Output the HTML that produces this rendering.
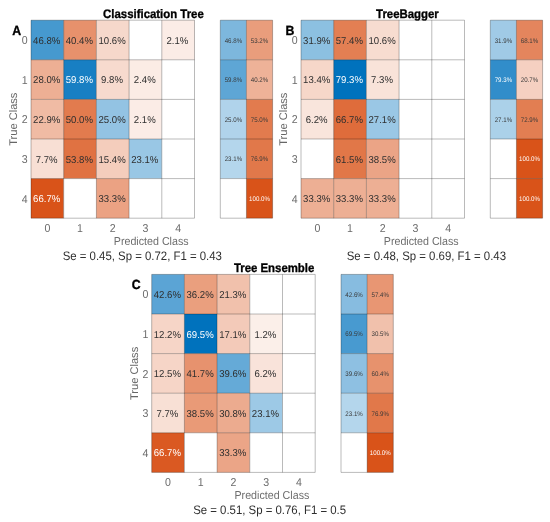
<!DOCTYPE html>
<html><head><meta charset="utf-8"><title>Confusion charts</title>
<style>
html,body{margin:0;padding:0;background:#fff;width:550px;height:522px;overflow:hidden}
svg{display:block;filter:blur(0.35px)}
text{font-family:'Liberation Sans', Arial, Helvetica, sans-serif;text-rendering:geometricPrecision}
</style></head><body>
<svg width="550" height="522" viewBox="0 0 550 522">
<rect x="0" y="0" width="550" height="522" fill="#ffffff"/>
<rect x="31.00" y="20.20" width="32.70" height="39.60" fill="#4699cf"/>
<rect x="63.70" y="20.20" width="32.70" height="39.60" fill="#e7916c"/>
<rect x="96.40" y="20.20" width="32.70" height="39.60" fill="#f6d8cb"/>
<rect x="129.10" y="20.20" width="32.70" height="39.60" fill="#ffffff"/>
<rect x="161.80" y="20.20" width="32.70" height="39.60" fill="#fbece6"/>
<rect x="31.00" y="59.80" width="32.70" height="39.60" fill="#edaf94"/>
<rect x="63.70" y="59.80" width="32.70" height="39.60" fill="#187fc3"/>
<rect x="96.40" y="59.80" width="32.70" height="39.60" fill="#f7dace"/>
<rect x="129.10" y="59.80" width="32.70" height="39.60" fill="#fbece5"/>
<rect x="161.80" y="59.80" width="32.70" height="39.60" fill="#ffffff"/>
<rect x="31.00" y="99.40" width="32.70" height="39.60" fill="#f0bba4"/>
<rect x="63.70" y="99.40" width="32.70" height="39.60" fill="#e27b4e"/>
<rect x="96.40" y="99.40" width="32.70" height="39.60" fill="#93c3e3"/>
<rect x="129.10" y="99.40" width="32.70" height="39.60" fill="#fbece6"/>
<rect x="161.80" y="99.40" width="32.70" height="39.60" fill="#ffffff"/>
<rect x="31.00" y="139.00" width="32.70" height="39.60" fill="#f8dfd4"/>
<rect x="63.70" y="139.00" width="32.70" height="39.60" fill="#e07242"/>
<rect x="96.40" y="139.00" width="32.70" height="39.60" fill="#f4cdbc"/>
<rect x="129.10" y="139.00" width="32.70" height="39.60" fill="#99c7e5"/>
<rect x="161.80" y="139.00" width="32.70" height="39.60" fill="#ffffff"/>
<rect x="31.00" y="178.60" width="32.70" height="39.60" fill="#d95319"/>
<rect x="63.70" y="178.60" width="32.70" height="39.60" fill="#ffffff"/>
<rect x="96.40" y="178.60" width="32.70" height="39.60" fill="#eba283"/>
<rect x="129.10" y="178.60" width="32.70" height="39.60" fill="#ffffff"/>
<rect x="161.80" y="178.60" width="32.70" height="39.60" fill="#ffffff"/>
<line x1="31.00" y1="20.20" x2="31.00" y2="218.20" stroke="#000" stroke-opacity="0.27" stroke-width="1"/>
<line x1="31.00" y1="20.20" x2="194.50" y2="20.20" stroke="#000" stroke-opacity="0.27" stroke-width="1"/>
<line x1="63.70" y1="20.20" x2="63.70" y2="218.20" stroke="#000" stroke-opacity="0.27" stroke-width="1"/>
<line x1="31.00" y1="59.80" x2="194.50" y2="59.80" stroke="#000" stroke-opacity="0.27" stroke-width="1"/>
<line x1="96.40" y1="20.20" x2="96.40" y2="218.20" stroke="#000" stroke-opacity="0.27" stroke-width="1"/>
<line x1="31.00" y1="99.40" x2="194.50" y2="99.40" stroke="#000" stroke-opacity="0.27" stroke-width="1"/>
<line x1="129.10" y1="20.20" x2="129.10" y2="218.20" stroke="#000" stroke-opacity="0.27" stroke-width="1"/>
<line x1="31.00" y1="139.00" x2="194.50" y2="139.00" stroke="#000" stroke-opacity="0.27" stroke-width="1"/>
<line x1="161.80" y1="20.20" x2="161.80" y2="218.20" stroke="#000" stroke-opacity="0.27" stroke-width="1"/>
<line x1="31.00" y1="178.60" x2="194.50" y2="178.60" stroke="#000" stroke-opacity="0.27" stroke-width="1"/>
<line x1="194.50" y1="20.20" x2="194.50" y2="218.20" stroke="#000" stroke-opacity="0.27" stroke-width="1"/>
<line x1="31.00" y1="218.20" x2="194.50" y2="218.20" stroke="#000" stroke-opacity="0.27" stroke-width="1"/>
<text transform="translate(46.65,43.75) scale(1,1.04)" font-size="9.6" fill="#2e2e2e" font-weight="normal" text-anchor="middle" >46.8%</text>
<text transform="translate(79.35,43.75) scale(1,1.04)" font-size="9.6" fill="#2e2e2e" font-weight="normal" text-anchor="middle" >40.4%</text>
<text transform="translate(112.05,43.75) scale(1,1.04)" font-size="9.6" fill="#2e2e2e" font-weight="normal" text-anchor="middle" >10.6%</text>
<text transform="translate(177.45,43.75) scale(1,1.04)" font-size="9.6" fill="#2e2e2e" font-weight="normal" text-anchor="middle" >2.1%</text>
<text transform="translate(46.65,83.35) scale(1,1.04)" font-size="9.6" fill="#2e2e2e" font-weight="normal" text-anchor="middle" >28.0%</text>
<text transform="translate(79.35,83.35) scale(1,1.04)" font-size="9.6" fill="#ffffff" font-weight="normal" text-anchor="middle" >59.8%</text>
<text transform="translate(112.05,83.35) scale(1,1.04)" font-size="9.6" fill="#2e2e2e" font-weight="normal" text-anchor="middle" >9.8%</text>
<text transform="translate(144.75,83.35) scale(1,1.04)" font-size="9.6" fill="#2e2e2e" font-weight="normal" text-anchor="middle" >2.4%</text>
<text transform="translate(46.65,122.95) scale(1,1.04)" font-size="9.6" fill="#2e2e2e" font-weight="normal" text-anchor="middle" >22.9%</text>
<text transform="translate(79.35,122.95) scale(1,1.04)" font-size="9.6" fill="#2e2e2e" font-weight="normal" text-anchor="middle" >50.0%</text>
<text transform="translate(112.05,122.95) scale(1,1.04)" font-size="9.6" fill="#2e2e2e" font-weight="normal" text-anchor="middle" >25.0%</text>
<text transform="translate(144.75,122.95) scale(1,1.04)" font-size="9.6" fill="#2e2e2e" font-weight="normal" text-anchor="middle" >2.1%</text>
<text transform="translate(46.65,162.55) scale(1,1.04)" font-size="9.6" fill="#2e2e2e" font-weight="normal" text-anchor="middle" >7.7%</text>
<text transform="translate(79.35,162.55) scale(1,1.04)" font-size="9.6" fill="#2e2e2e" font-weight="normal" text-anchor="middle" >53.8%</text>
<text transform="translate(112.05,162.55) scale(1,1.04)" font-size="9.6" fill="#2e2e2e" font-weight="normal" text-anchor="middle" >15.4%</text>
<text transform="translate(144.75,162.55) scale(1,1.04)" font-size="9.6" fill="#2e2e2e" font-weight="normal" text-anchor="middle" >23.1%</text>
<text transform="translate(46.65,202.15) scale(1,1.04)" font-size="9.6" fill="#ffffff" font-weight="normal" text-anchor="middle" >66.7%</text>
<text transform="translate(112.05,202.15) scale(1,1.04)" font-size="9.6" fill="#2e2e2e" font-weight="normal" text-anchor="middle" >33.3%</text>
<rect x="220.30" y="20.20" width="26.15" height="39.60" fill="#7db7dd"/>
<rect x="246.45" y="20.20" width="26.15" height="39.60" fill="#e99d7c"/>
<rect x="220.30" y="59.80" width="26.15" height="39.60" fill="#5ea6d5"/>
<rect x="246.45" y="59.80" width="26.15" height="39.60" fill="#eeb298"/>
<rect x="220.30" y="99.40" width="26.15" height="39.60" fill="#b0d3eb"/>
<rect x="246.45" y="99.40" width="26.15" height="39.60" fill="#e27b4e"/>
<rect x="220.30" y="139.00" width="26.15" height="39.60" fill="#b4d6ec"/>
<rect x="246.45" y="139.00" width="26.15" height="39.60" fill="#e1784a"/>
<rect x="220.30" y="178.60" width="26.15" height="39.60" fill="#ffffff"/>
<rect x="246.45" y="178.60" width="26.15" height="39.60" fill="#d95319"/>
<line x1="220.30" y1="20.20" x2="220.30" y2="218.20" stroke="#000" stroke-opacity="0.27" stroke-width="1"/>
<line x1="246.45" y1="20.20" x2="246.45" y2="218.20" stroke="#000" stroke-opacity="0.27" stroke-width="1"/>
<line x1="272.60" y1="20.20" x2="272.60" y2="218.20" stroke="#000" stroke-opacity="0.27" stroke-width="1"/>
<line x1="220.30" y1="20.20" x2="272.60" y2="20.20" stroke="#000" stroke-opacity="0.27" stroke-width="1"/>
<line x1="220.30" y1="59.80" x2="272.60" y2="59.80" stroke="#000" stroke-opacity="0.27" stroke-width="1"/>
<line x1="220.30" y1="99.40" x2="272.60" y2="99.40" stroke="#000" stroke-opacity="0.27" stroke-width="1"/>
<line x1="220.30" y1="139.00" x2="272.60" y2="139.00" stroke="#000" stroke-opacity="0.27" stroke-width="1"/>
<line x1="220.30" y1="178.60" x2="272.60" y2="178.60" stroke="#000" stroke-opacity="0.27" stroke-width="1"/>
<line x1="220.30" y1="218.20" x2="272.60" y2="218.20" stroke="#000" stroke-opacity="0.27" stroke-width="1"/>
<text transform="translate(233.38,42.55) scale(1,1.08)" font-size="6.15" fill="#383838" font-weight="normal" text-anchor="middle" >46.8%</text>
<text transform="translate(259.52,42.55) scale(1,1.08)" font-size="6.15" fill="#383838" font-weight="normal" text-anchor="middle" >53.2%</text>
<text transform="translate(233.38,82.15) scale(1,1.08)" font-size="6.15" fill="#383838" font-weight="normal" text-anchor="middle" >59.8%</text>
<text transform="translate(259.52,82.15) scale(1,1.08)" font-size="6.15" fill="#383838" font-weight="normal" text-anchor="middle" >40.2%</text>
<text transform="translate(233.38,121.75) scale(1,1.08)" font-size="6.15" fill="#383838" font-weight="normal" text-anchor="middle" >25.0%</text>
<text transform="translate(259.52,121.75) scale(1,1.08)" font-size="6.15" fill="#383838" font-weight="normal" text-anchor="middle" >75.0%</text>
<text transform="translate(233.38,161.35) scale(1,1.08)" font-size="6.15" fill="#383838" font-weight="normal" text-anchor="middle" >23.1%</text>
<text transform="translate(259.52,161.35) scale(1,1.08)" font-size="6.15" fill="#383838" font-weight="normal" text-anchor="middle" >76.9%</text>
<text transform="translate(259.52,200.95) scale(1,1.08)" font-size="6.15" fill="#ffffff" font-weight="normal" text-anchor="middle" >100.0%</text>
<text transform="translate(24.70,44.20) scale(1,1.08)" font-size="10.6" fill="#6a6a6a" font-weight="normal" text-anchor="middle" >0</text>
<text transform="translate(47.35,231.80) scale(1,1.08)" font-size="10.6" fill="#6a6a6a" font-weight="normal" text-anchor="middle" >0</text>
<text transform="translate(24.70,83.80) scale(1,1.08)" font-size="10.6" fill="#6a6a6a" font-weight="normal" text-anchor="middle" >1</text>
<text transform="translate(80.05,231.80) scale(1,1.08)" font-size="10.6" fill="#6a6a6a" font-weight="normal" text-anchor="middle" >1</text>
<text transform="translate(24.70,123.40) scale(1,1.08)" font-size="10.6" fill="#6a6a6a" font-weight="normal" text-anchor="middle" >2</text>
<text transform="translate(112.75,231.80) scale(1,1.08)" font-size="10.6" fill="#6a6a6a" font-weight="normal" text-anchor="middle" >2</text>
<text transform="translate(24.70,163.00) scale(1,1.08)" font-size="10.6" fill="#6a6a6a" font-weight="normal" text-anchor="middle" >3</text>
<text transform="translate(145.45,231.80) scale(1,1.08)" font-size="10.6" fill="#6a6a6a" font-weight="normal" text-anchor="middle" >3</text>
<text transform="translate(24.70,202.60) scale(1,1.08)" font-size="10.6" fill="#6a6a6a" font-weight="normal" text-anchor="middle" >4</text>
<text transform="translate(178.15,231.80) scale(1,1.08)" font-size="10.6" fill="#6a6a6a" font-weight="normal" text-anchor="middle" >4</text>
<text x="0" y="0" font-size="11.1" fill="#666666" text-anchor="middle" transform="translate(17.40,119.20) rotate(-90)">True Class</text>
<text transform="translate(151.20,244.90) scale(1,1.08)" font-size="10.7" fill="#6e6e6e" font-weight="normal" text-anchor="middle" >Predicted Class</text>
<text transform="translate(142.30,259.80) scale(1,1.08)" font-size="11.4" fill="#2e2e2e" font-weight="normal" text-anchor="middle" >Se = 0.45, Sp = 0.72, F1 = 0.43</text>
<text transform="translate(153.45,17.60) scale(1,1.08)" font-size="11.4" fill="#000000" font-weight="bold" text-anchor="middle" stroke="#000" stroke-width="0.3">Classification Tree</text>
<text transform="translate(12.20,34.80) scale(1,1.08)" font-size="12.3" fill="#000000" font-weight="bold" text-anchor="start" stroke="#000" stroke-width="0.3">A</text>
<rect x="301.00" y="20.20" width="32.70" height="39.60" fill="#8cc0e1"/>
<rect x="333.70" y="20.20" width="32.70" height="39.60" fill="#e37f53"/>
<rect x="366.40" y="20.20" width="32.70" height="39.60" fill="#f7dcd0"/>
<rect x="399.10" y="20.20" width="32.70" height="39.60" fill="#ffffff"/>
<rect x="431.80" y="20.20" width="32.70" height="39.60" fill="#ffffff"/>
<rect x="301.00" y="59.80" width="32.70" height="39.60" fill="#f6d7c9"/>
<rect x="333.70" y="59.80" width="32.70" height="39.60" fill="#0072bd"/>
<rect x="366.40" y="59.80" width="32.70" height="39.60" fill="#f9e3d9"/>
<rect x="399.10" y="59.80" width="32.70" height="39.60" fill="#ffffff"/>
<rect x="431.80" y="59.80" width="32.70" height="39.60" fill="#ffffff"/>
<rect x="301.00" y="99.40" width="32.70" height="39.60" fill="#f9e5dc"/>
<rect x="333.70" y="99.40" width="32.70" height="39.60" fill="#df6c3b"/>
<rect x="366.40" y="99.40" width="32.70" height="39.60" fill="#9ac7e5"/>
<rect x="399.10" y="99.40" width="32.70" height="39.60" fill="#ffffff"/>
<rect x="431.80" y="99.40" width="32.70" height="39.60" fill="#ffffff"/>
<rect x="301.00" y="139.00" width="32.70" height="39.60" fill="#ffffff"/>
<rect x="333.70" y="139.00" width="32.70" height="39.60" fill="#e17748"/>
<rect x="366.40" y="139.00" width="32.70" height="39.60" fill="#eba486"/>
<rect x="399.10" y="139.00" width="32.70" height="39.60" fill="#ffffff"/>
<rect x="431.80" y="139.00" width="32.70" height="39.60" fill="#ffffff"/>
<rect x="301.00" y="178.60" width="32.70" height="39.60" fill="#edaf94"/>
<rect x="333.70" y="178.60" width="32.70" height="39.60" fill="#edaf94"/>
<rect x="366.40" y="178.60" width="32.70" height="39.60" fill="#edaf94"/>
<rect x="399.10" y="178.60" width="32.70" height="39.60" fill="#ffffff"/>
<rect x="431.80" y="178.60" width="32.70" height="39.60" fill="#ffffff"/>
<line x1="301.00" y1="20.20" x2="301.00" y2="218.20" stroke="#000" stroke-opacity="0.27" stroke-width="1"/>
<line x1="301.00" y1="20.20" x2="464.50" y2="20.20" stroke="#000" stroke-opacity="0.27" stroke-width="1"/>
<line x1="333.70" y1="20.20" x2="333.70" y2="218.20" stroke="#000" stroke-opacity="0.27" stroke-width="1"/>
<line x1="301.00" y1="59.80" x2="464.50" y2="59.80" stroke="#000" stroke-opacity="0.27" stroke-width="1"/>
<line x1="366.40" y1="20.20" x2="366.40" y2="218.20" stroke="#000" stroke-opacity="0.27" stroke-width="1"/>
<line x1="301.00" y1="99.40" x2="464.50" y2="99.40" stroke="#000" stroke-opacity="0.27" stroke-width="1"/>
<line x1="399.10" y1="20.20" x2="399.10" y2="218.20" stroke="#000" stroke-opacity="0.27" stroke-width="1"/>
<line x1="301.00" y1="139.00" x2="464.50" y2="139.00" stroke="#000" stroke-opacity="0.27" stroke-width="1"/>
<line x1="431.80" y1="20.20" x2="431.80" y2="218.20" stroke="#000" stroke-opacity="0.27" stroke-width="1"/>
<line x1="301.00" y1="178.60" x2="464.50" y2="178.60" stroke="#000" stroke-opacity="0.27" stroke-width="1"/>
<line x1="464.50" y1="20.20" x2="464.50" y2="218.20" stroke="#000" stroke-opacity="0.27" stroke-width="1"/>
<line x1="301.00" y1="218.20" x2="464.50" y2="218.20" stroke="#000" stroke-opacity="0.27" stroke-width="1"/>
<text transform="translate(316.65,43.75) scale(1,1.04)" font-size="9.6" fill="#2e2e2e" font-weight="normal" text-anchor="middle" >31.9%</text>
<text transform="translate(349.35,43.75) scale(1,1.04)" font-size="9.6" fill="#2e2e2e" font-weight="normal" text-anchor="middle" >57.4%</text>
<text transform="translate(382.05,43.75) scale(1,1.04)" font-size="9.6" fill="#2e2e2e" font-weight="normal" text-anchor="middle" >10.6%</text>
<text transform="translate(316.65,83.35) scale(1,1.04)" font-size="9.6" fill="#2e2e2e" font-weight="normal" text-anchor="middle" >13.4%</text>
<text transform="translate(349.35,83.35) scale(1,1.04)" font-size="9.6" fill="#ffffff" font-weight="normal" text-anchor="middle" >79.3%</text>
<text transform="translate(382.05,83.35) scale(1,1.04)" font-size="9.6" fill="#2e2e2e" font-weight="normal" text-anchor="middle" >7.3%</text>
<text transform="translate(316.65,122.95) scale(1,1.04)" font-size="9.6" fill="#2e2e2e" font-weight="normal" text-anchor="middle" >6.2%</text>
<text transform="translate(349.35,122.95) scale(1,1.04)" font-size="9.6" fill="#2e2e2e" font-weight="normal" text-anchor="middle" >66.7%</text>
<text transform="translate(382.05,122.95) scale(1,1.04)" font-size="9.6" fill="#2e2e2e" font-weight="normal" text-anchor="middle" >27.1%</text>
<text transform="translate(349.35,162.55) scale(1,1.04)" font-size="9.6" fill="#2e2e2e" font-weight="normal" text-anchor="middle" >61.5%</text>
<text transform="translate(382.05,162.55) scale(1,1.04)" font-size="9.6" fill="#2e2e2e" font-weight="normal" text-anchor="middle" >38.5%</text>
<text transform="translate(316.65,202.15) scale(1,1.04)" font-size="9.6" fill="#2e2e2e" font-weight="normal" text-anchor="middle" >33.3%</text>
<text transform="translate(349.35,202.15) scale(1,1.04)" font-size="9.6" fill="#2e2e2e" font-weight="normal" text-anchor="middle" >33.3%</text>
<text transform="translate(382.05,202.15) scale(1,1.04)" font-size="9.6" fill="#2e2e2e" font-weight="normal" text-anchor="middle" >33.3%</text>
<rect x="490.30" y="20.20" width="26.15" height="39.60" fill="#a0cae6"/>
<rect x="516.45" y="20.20" width="26.15" height="39.60" fill="#e4855d"/>
<rect x="490.30" y="59.80" width="26.15" height="39.60" fill="#318dca"/>
<rect x="516.45" y="59.80" width="26.15" height="39.60" fill="#f5d0c1"/>
<rect x="490.30" y="99.40" width="26.15" height="39.60" fill="#abd1e9"/>
<rect x="516.45" y="99.40" width="26.15" height="39.60" fill="#e27e52"/>
<rect x="490.30" y="139.00" width="26.15" height="39.60" fill="#ffffff"/>
<rect x="516.45" y="139.00" width="26.15" height="39.60" fill="#d95319"/>
<rect x="490.30" y="178.60" width="26.15" height="39.60" fill="#ffffff"/>
<rect x="516.45" y="178.60" width="26.15" height="39.60" fill="#d95319"/>
<line x1="490.30" y1="20.20" x2="490.30" y2="218.20" stroke="#000" stroke-opacity="0.27" stroke-width="1"/>
<line x1="516.45" y1="20.20" x2="516.45" y2="218.20" stroke="#000" stroke-opacity="0.27" stroke-width="1"/>
<line x1="542.60" y1="20.20" x2="542.60" y2="218.20" stroke="#000" stroke-opacity="0.27" stroke-width="1"/>
<line x1="490.30" y1="20.20" x2="542.60" y2="20.20" stroke="#000" stroke-opacity="0.27" stroke-width="1"/>
<line x1="490.30" y1="59.80" x2="542.60" y2="59.80" stroke="#000" stroke-opacity="0.27" stroke-width="1"/>
<line x1="490.30" y1="99.40" x2="542.60" y2="99.40" stroke="#000" stroke-opacity="0.27" stroke-width="1"/>
<line x1="490.30" y1="139.00" x2="542.60" y2="139.00" stroke="#000" stroke-opacity="0.27" stroke-width="1"/>
<line x1="490.30" y1="178.60" x2="542.60" y2="178.60" stroke="#000" stroke-opacity="0.27" stroke-width="1"/>
<line x1="490.30" y1="218.20" x2="542.60" y2="218.20" stroke="#000" stroke-opacity="0.27" stroke-width="1"/>
<text transform="translate(503.38,42.55) scale(1,1.08)" font-size="6.15" fill="#383838" font-weight="normal" text-anchor="middle" >31.9%</text>
<text transform="translate(529.52,42.55) scale(1,1.08)" font-size="6.15" fill="#383838" font-weight="normal" text-anchor="middle" >68.1%</text>
<text transform="translate(503.38,82.15) scale(1,1.08)" font-size="6.15" fill="#ffffff" font-weight="normal" text-anchor="middle" >79.3%</text>
<text transform="translate(529.52,82.15) scale(1,1.08)" font-size="6.15" fill="#383838" font-weight="normal" text-anchor="middle" >20.7%</text>
<text transform="translate(503.38,121.75) scale(1,1.08)" font-size="6.15" fill="#383838" font-weight="normal" text-anchor="middle" >27.1%</text>
<text transform="translate(529.52,121.75) scale(1,1.08)" font-size="6.15" fill="#383838" font-weight="normal" text-anchor="middle" >72.9%</text>
<text transform="translate(529.52,161.35) scale(1,1.08)" font-size="6.15" fill="#ffffff" font-weight="normal" text-anchor="middle" >100.0%</text>
<text transform="translate(529.52,200.95) scale(1,1.08)" font-size="6.15" fill="#ffffff" font-weight="normal" text-anchor="middle" >100.0%</text>
<text transform="translate(294.70,44.20) scale(1,1.08)" font-size="10.6" fill="#6a6a6a" font-weight="normal" text-anchor="middle" >0</text>
<text transform="translate(317.35,231.80) scale(1,1.08)" font-size="10.6" fill="#6a6a6a" font-weight="normal" text-anchor="middle" >0</text>
<text transform="translate(294.70,83.80) scale(1,1.08)" font-size="10.6" fill="#6a6a6a" font-weight="normal" text-anchor="middle" >1</text>
<text transform="translate(350.05,231.80) scale(1,1.08)" font-size="10.6" fill="#6a6a6a" font-weight="normal" text-anchor="middle" >1</text>
<text transform="translate(294.70,123.40) scale(1,1.08)" font-size="10.6" fill="#6a6a6a" font-weight="normal" text-anchor="middle" >2</text>
<text transform="translate(382.75,231.80) scale(1,1.08)" font-size="10.6" fill="#6a6a6a" font-weight="normal" text-anchor="middle" >2</text>
<text transform="translate(294.70,163.00) scale(1,1.08)" font-size="10.6" fill="#6a6a6a" font-weight="normal" text-anchor="middle" >3</text>
<text transform="translate(415.45,231.80) scale(1,1.08)" font-size="10.6" fill="#6a6a6a" font-weight="normal" text-anchor="middle" >3</text>
<text transform="translate(294.70,202.60) scale(1,1.08)" font-size="10.6" fill="#6a6a6a" font-weight="normal" text-anchor="middle" >4</text>
<text transform="translate(448.15,231.80) scale(1,1.08)" font-size="10.6" fill="#6a6a6a" font-weight="normal" text-anchor="middle" >4</text>
<text x="0" y="0" font-size="11.1" fill="#666666" text-anchor="middle" transform="translate(287.40,119.20) rotate(-90)">True Class</text>
<text transform="translate(421.20,244.90) scale(1,1.08)" font-size="10.7" fill="#6e6e6e" font-weight="normal" text-anchor="middle" >Predicted Class</text>
<text transform="translate(426.40,259.80) scale(1,1.08)" font-size="11.4" fill="#2e2e2e" font-weight="normal" text-anchor="middle" >Se = 0.48, Sp = 0.69, F1 = 0.43</text>
<text transform="translate(407.45,17.60) scale(1,1.08)" font-size="11.4" fill="#000000" font-weight="bold" text-anchor="middle" stroke="#000" stroke-width="0.3">TreeBagger</text>
<text transform="translate(285.50,34.80) scale(1,1.08)" font-size="12.3" fill="#000000" font-weight="bold" text-anchor="start" stroke="#000" stroke-width="0.3">B</text>
<rect x="151.70" y="274.40" width="32.70" height="39.60" fill="#5ba4d5"/>
<rect x="184.40" y="274.40" width="32.70" height="39.60" fill="#ea9f7e"/>
<rect x="217.10" y="274.40" width="32.70" height="39.60" fill="#f1c1ac"/>
<rect x="249.80" y="274.40" width="32.70" height="39.60" fill="#ffffff"/>
<rect x="282.50" y="274.40" width="32.70" height="39.60" fill="#ffffff"/>
<rect x="151.70" y="314.00" width="32.70" height="39.60" fill="#f6d5c7"/>
<rect x="184.40" y="314.00" width="32.70" height="39.60" fill="#0072bd"/>
<rect x="217.10" y="314.00" width="32.70" height="39.60" fill="#f3cab9"/>
<rect x="249.80" y="314.00" width="32.70" height="39.60" fill="#fbefe9"/>
<rect x="282.50" y="314.00" width="32.70" height="39.60" fill="#ffffff"/>
<rect x="151.70" y="353.60" width="32.70" height="39.60" fill="#f6d5c7"/>
<rect x="184.40" y="353.60" width="32.70" height="39.60" fill="#e7926e"/>
<rect x="217.10" y="353.60" width="32.70" height="39.60" fill="#65aad7"/>
<rect x="249.80" y="353.60" width="32.70" height="39.60" fill="#f9e3da"/>
<rect x="282.50" y="353.60" width="32.70" height="39.60" fill="#ffffff"/>
<rect x="151.70" y="393.20" width="32.70" height="39.60" fill="#f8e0d5"/>
<rect x="184.40" y="393.20" width="32.70" height="39.60" fill="#e99a77"/>
<rect x="217.10" y="393.20" width="32.70" height="39.60" fill="#ecab8f"/>
<rect x="249.80" y="393.20" width="32.70" height="39.60" fill="#9dc9e6"/>
<rect x="282.50" y="393.20" width="32.70" height="39.60" fill="#ffffff"/>
<rect x="151.70" y="432.80" width="32.70" height="39.60" fill="#da5922"/>
<rect x="184.40" y="432.80" width="32.70" height="39.60" fill="#ffffff"/>
<rect x="217.10" y="432.80" width="32.70" height="39.60" fill="#eba587"/>
<rect x="249.80" y="432.80" width="32.70" height="39.60" fill="#ffffff"/>
<rect x="282.50" y="432.80" width="32.70" height="39.60" fill="#ffffff"/>
<line x1="151.70" y1="274.40" x2="151.70" y2="472.40" stroke="#000" stroke-opacity="0.27" stroke-width="1"/>
<line x1="151.70" y1="274.40" x2="315.20" y2="274.40" stroke="#000" stroke-opacity="0.27" stroke-width="1"/>
<line x1="184.40" y1="274.40" x2="184.40" y2="472.40" stroke="#000" stroke-opacity="0.27" stroke-width="1"/>
<line x1="151.70" y1="314.00" x2="315.20" y2="314.00" stroke="#000" stroke-opacity="0.27" stroke-width="1"/>
<line x1="217.10" y1="274.40" x2="217.10" y2="472.40" stroke="#000" stroke-opacity="0.27" stroke-width="1"/>
<line x1="151.70" y1="353.60" x2="315.20" y2="353.60" stroke="#000" stroke-opacity="0.27" stroke-width="1"/>
<line x1="249.80" y1="274.40" x2="249.80" y2="472.40" stroke="#000" stroke-opacity="0.27" stroke-width="1"/>
<line x1="151.70" y1="393.20" x2="315.20" y2="393.20" stroke="#000" stroke-opacity="0.27" stroke-width="1"/>
<line x1="282.50" y1="274.40" x2="282.50" y2="472.40" stroke="#000" stroke-opacity="0.27" stroke-width="1"/>
<line x1="151.70" y1="432.80" x2="315.20" y2="432.80" stroke="#000" stroke-opacity="0.27" stroke-width="1"/>
<line x1="315.20" y1="274.40" x2="315.20" y2="472.40" stroke="#000" stroke-opacity="0.27" stroke-width="1"/>
<line x1="151.70" y1="472.40" x2="315.20" y2="472.40" stroke="#000" stroke-opacity="0.27" stroke-width="1"/>
<text transform="translate(167.35,297.95) scale(1,1.04)" font-size="9.6" fill="#2e2e2e" font-weight="normal" text-anchor="middle" >42.6%</text>
<text transform="translate(200.05,297.95) scale(1,1.04)" font-size="9.6" fill="#2e2e2e" font-weight="normal" text-anchor="middle" >36.2%</text>
<text transform="translate(232.75,297.95) scale(1,1.04)" font-size="9.6" fill="#2e2e2e" font-weight="normal" text-anchor="middle" >21.3%</text>
<text transform="translate(167.35,337.55) scale(1,1.04)" font-size="9.6" fill="#2e2e2e" font-weight="normal" text-anchor="middle" >12.2%</text>
<text transform="translate(200.05,337.55) scale(1,1.04)" font-size="9.6" fill="#ffffff" font-weight="normal" text-anchor="middle" >69.5%</text>
<text transform="translate(232.75,337.55) scale(1,1.04)" font-size="9.6" fill="#2e2e2e" font-weight="normal" text-anchor="middle" >17.1%</text>
<text transform="translate(265.45,337.55) scale(1,1.04)" font-size="9.6" fill="#2e2e2e" font-weight="normal" text-anchor="middle" >1.2%</text>
<text transform="translate(167.35,377.15) scale(1,1.04)" font-size="9.6" fill="#2e2e2e" font-weight="normal" text-anchor="middle" >12.5%</text>
<text transform="translate(200.05,377.15) scale(1,1.04)" font-size="9.6" fill="#2e2e2e" font-weight="normal" text-anchor="middle" >41.7%</text>
<text transform="translate(232.75,377.15) scale(1,1.04)" font-size="9.6" fill="#2e2e2e" font-weight="normal" text-anchor="middle" >39.6%</text>
<text transform="translate(265.45,377.15) scale(1,1.04)" font-size="9.6" fill="#2e2e2e" font-weight="normal" text-anchor="middle" >6.2%</text>
<text transform="translate(167.35,416.75) scale(1,1.04)" font-size="9.6" fill="#2e2e2e" font-weight="normal" text-anchor="middle" >7.7%</text>
<text transform="translate(200.05,416.75) scale(1,1.04)" font-size="9.6" fill="#2e2e2e" font-weight="normal" text-anchor="middle" >38.5%</text>
<text transform="translate(232.75,416.75) scale(1,1.04)" font-size="9.6" fill="#2e2e2e" font-weight="normal" text-anchor="middle" >30.8%</text>
<text transform="translate(265.45,416.75) scale(1,1.04)" font-size="9.6" fill="#2e2e2e" font-weight="normal" text-anchor="middle" >23.1%</text>
<text transform="translate(167.35,456.35) scale(1,1.04)" font-size="9.6" fill="#ffffff" font-weight="normal" text-anchor="middle" >66.7%</text>
<text transform="translate(232.75,456.35) scale(1,1.04)" font-size="9.6" fill="#2e2e2e" font-weight="normal" text-anchor="middle" >33.3%</text>
<rect x="341.00" y="274.40" width="26.15" height="39.60" fill="#87bce0"/>
<rect x="367.15" y="274.40" width="26.15" height="39.60" fill="#e89673"/>
<rect x="341.00" y="314.00" width="26.15" height="39.60" fill="#489ad0"/>
<rect x="367.15" y="314.00" width="26.15" height="39.60" fill="#f1c1ac"/>
<rect x="341.00" y="353.60" width="26.15" height="39.60" fill="#8ec0e2"/>
<rect x="367.15" y="353.60" width="26.15" height="39.60" fill="#e7926d"/>
<rect x="341.00" y="393.20" width="26.15" height="39.60" fill="#b4d6ec"/>
<rect x="367.15" y="393.20" width="26.15" height="39.60" fill="#e1784a"/>
<rect x="341.00" y="432.80" width="26.15" height="39.60" fill="#ffffff"/>
<rect x="367.15" y="432.80" width="26.15" height="39.60" fill="#d95319"/>
<line x1="341.00" y1="274.40" x2="341.00" y2="472.40" stroke="#000" stroke-opacity="0.27" stroke-width="1"/>
<line x1="367.15" y1="274.40" x2="367.15" y2="472.40" stroke="#000" stroke-opacity="0.27" stroke-width="1"/>
<line x1="393.30" y1="274.40" x2="393.30" y2="472.40" stroke="#000" stroke-opacity="0.27" stroke-width="1"/>
<line x1="341.00" y1="274.40" x2="393.30" y2="274.40" stroke="#000" stroke-opacity="0.27" stroke-width="1"/>
<line x1="341.00" y1="314.00" x2="393.30" y2="314.00" stroke="#000" stroke-opacity="0.27" stroke-width="1"/>
<line x1="341.00" y1="353.60" x2="393.30" y2="353.60" stroke="#000" stroke-opacity="0.27" stroke-width="1"/>
<line x1="341.00" y1="393.20" x2="393.30" y2="393.20" stroke="#000" stroke-opacity="0.27" stroke-width="1"/>
<line x1="341.00" y1="432.80" x2="393.30" y2="432.80" stroke="#000" stroke-opacity="0.27" stroke-width="1"/>
<line x1="341.00" y1="472.40" x2="393.30" y2="472.40" stroke="#000" stroke-opacity="0.27" stroke-width="1"/>
<text transform="translate(354.07,296.75) scale(1,1.08)" font-size="6.15" fill="#383838" font-weight="normal" text-anchor="middle" >42.6%</text>
<text transform="translate(380.23,296.75) scale(1,1.08)" font-size="6.15" fill="#383838" font-weight="normal" text-anchor="middle" >57.4%</text>
<text transform="translate(354.07,336.35) scale(1,1.08)" font-size="6.15" fill="#383838" font-weight="normal" text-anchor="middle" >69.5%</text>
<text transform="translate(380.23,336.35) scale(1,1.08)" font-size="6.15" fill="#383838" font-weight="normal" text-anchor="middle" >30.5%</text>
<text transform="translate(354.07,375.95) scale(1,1.08)" font-size="6.15" fill="#383838" font-weight="normal" text-anchor="middle" >39.6%</text>
<text transform="translate(380.23,375.95) scale(1,1.08)" font-size="6.15" fill="#383838" font-weight="normal" text-anchor="middle" >60.4%</text>
<text transform="translate(354.07,415.55) scale(1,1.08)" font-size="6.15" fill="#383838" font-weight="normal" text-anchor="middle" >23.1%</text>
<text transform="translate(380.23,415.55) scale(1,1.08)" font-size="6.15" fill="#383838" font-weight="normal" text-anchor="middle" >76.9%</text>
<text transform="translate(380.23,455.15) scale(1,1.08)" font-size="6.15" fill="#ffffff" font-weight="normal" text-anchor="middle" >100.0%</text>
<text transform="translate(145.40,298.40) scale(1,1.08)" font-size="10.6" fill="#6a6a6a" font-weight="normal" text-anchor="middle" >0</text>
<text transform="translate(168.05,486.00) scale(1,1.08)" font-size="10.6" fill="#6a6a6a" font-weight="normal" text-anchor="middle" >0</text>
<text transform="translate(145.40,338.00) scale(1,1.08)" font-size="10.6" fill="#6a6a6a" font-weight="normal" text-anchor="middle" >1</text>
<text transform="translate(200.75,486.00) scale(1,1.08)" font-size="10.6" fill="#6a6a6a" font-weight="normal" text-anchor="middle" >1</text>
<text transform="translate(145.40,377.60) scale(1,1.08)" font-size="10.6" fill="#6a6a6a" font-weight="normal" text-anchor="middle" >2</text>
<text transform="translate(233.45,486.00) scale(1,1.08)" font-size="10.6" fill="#6a6a6a" font-weight="normal" text-anchor="middle" >2</text>
<text transform="translate(145.40,417.20) scale(1,1.08)" font-size="10.6" fill="#6a6a6a" font-weight="normal" text-anchor="middle" >3</text>
<text transform="translate(266.15,486.00) scale(1,1.08)" font-size="10.6" fill="#6a6a6a" font-weight="normal" text-anchor="middle" >3</text>
<text transform="translate(145.40,456.80) scale(1,1.08)" font-size="10.6" fill="#6a6a6a" font-weight="normal" text-anchor="middle" >4</text>
<text transform="translate(298.85,486.00) scale(1,1.08)" font-size="10.6" fill="#6a6a6a" font-weight="normal" text-anchor="middle" >4</text>
<text x="0" y="0" font-size="11.1" fill="#666666" text-anchor="middle" transform="translate(138.10,373.40) rotate(-90)">True Class</text>
<text transform="translate(271.90,499.10) scale(1,1.08)" font-size="10.7" fill="#6e6e6e" font-weight="normal" text-anchor="middle" >Predicted Class</text>
<text transform="translate(269.65,514.00) scale(1,1.08)" font-size="11.4" fill="#2e2e2e" font-weight="normal" text-anchor="middle" >Se = 0.51, Sp = 0.76, F1 = 0.5</text>
<text transform="translate(274.10,271.80) scale(1,1.08)" font-size="11.4" fill="#000000" font-weight="bold" text-anchor="middle" stroke="#000" stroke-width="0.3">Tree Ensemble</text>
<text transform="translate(131.80,289.00) scale(1,1.08)" font-size="12.3" fill="#000000" font-weight="bold" text-anchor="start" stroke="#000" stroke-width="0.3">C</text>
</svg>
</body></html>
